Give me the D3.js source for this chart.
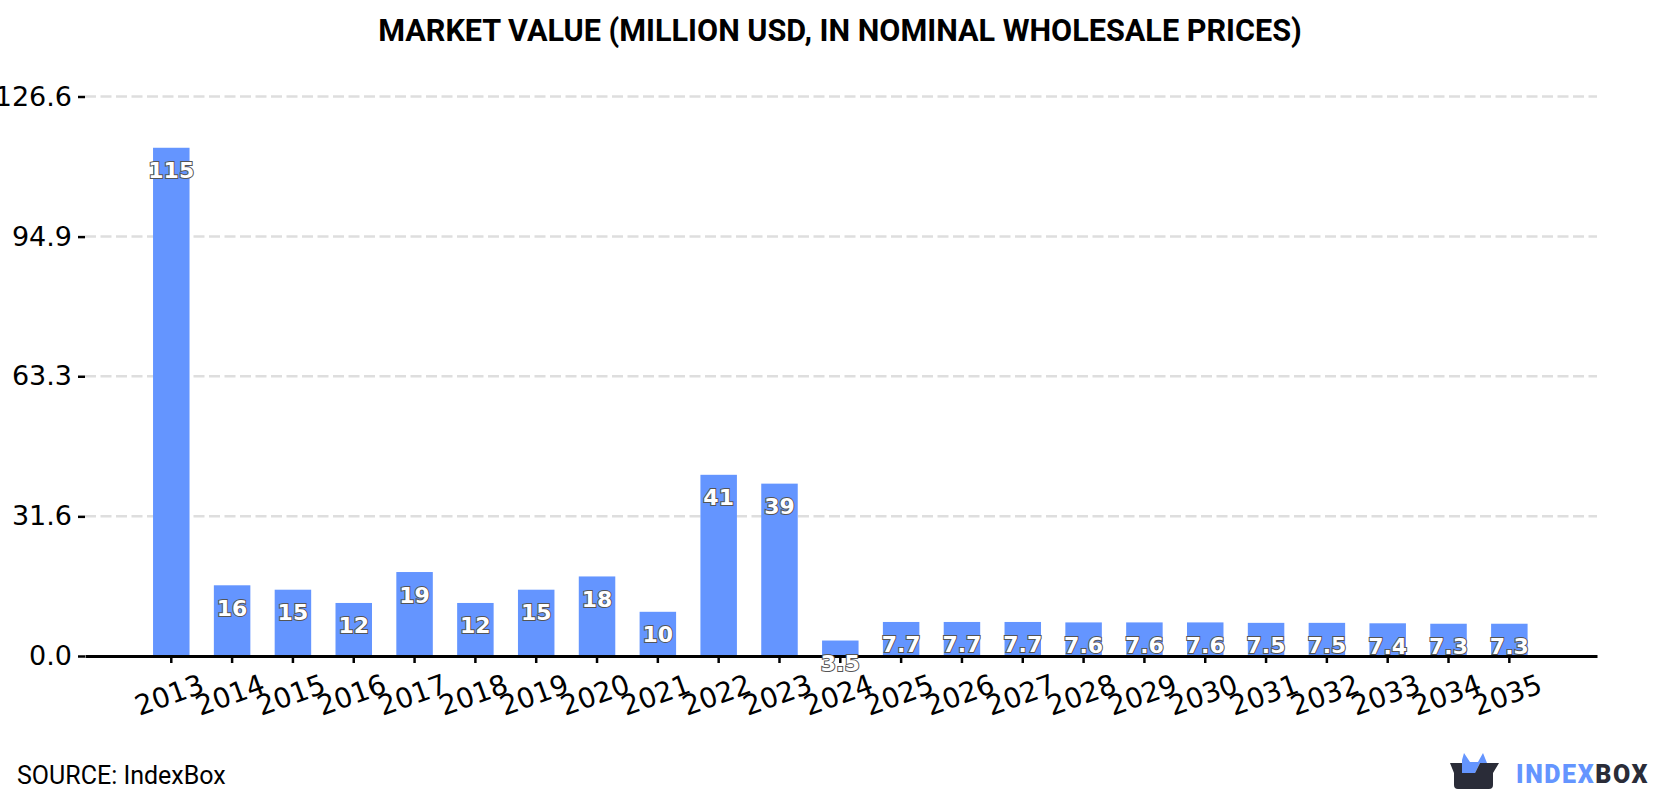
<!DOCTYPE html>
<html>
<head>
<meta charset="utf-8">
<script src="https://cdn.jsdelivr.net/npm/d3@7"></script>
<style>
  html, body { margin: 0; padding: 0; background: #fff; }
  svg { display: block; }
</style>
</head>
<body>
<svg id="chart" width="1680" height="800"></svg>
<script>
const years = ["2013","2014","2015","2016","2017","2018","2019","2020","2021","2022","2023","2024","2025","2026","2027","2028","2029","2030","2031","2032","2033","2034","2035"];
const marketValue = [115,16,15,12,19,12,15,18,10,41,39,3.5,7.7,7.7,7.7,7.6,7.6,7.6,7.5,7.5,7.4,7.3,7.3];
const yTicks = [0,31.6,63.3,94.9,126.6];

const svg = d3.select("#chart");
const plot = { left: 85, right: 1597, top: 96.5, bottom: 656 };

const x = d3.scaleBand().domain(years).range([plot.left, plot.right]).paddingInner(0.4).paddingOuter(1.13).align(0.495);
const y = d3.scaleLinear().domain([0, 126.6]).range([plot.bottom, plot.top]);

svg.append("text")
  .attr("x", 840).attr("y", 41)
  .attr("text-anchor", "middle")
  .attr("font-family", "Roboto").attr("font-weight", 700).attr("font-size", 30.6)
  .attr("fill", "#000")
  .text("MARKET VALUE (MILLION USD, IN NOMINAL WHOLESALE PRICES)");

// Dashed horizontal guides
svg.append("g").selectAll("line")
  .data(yTicks.filter(d => d > 0))
  .join("line")
  .attr("x1", plot.left).attr("x2", plot.right)
  .attr("y1", d => y(d)).attr("y2", d => y(d))
  .attr("stroke", "#dedede").attr("stroke-width", 2.5)
  .attr("stroke-dasharray", "11 4.5");

// Bars
svg.append("g").selectAll("rect")
  .data(years)
  .join("rect")
  .attr("x", d => x(d))
  .attr("width", x.bandwidth())
  .attr("y", (d, i) => y(marketValue[i]))
  .attr("height", (d, i) => plot.bottom - y(marketValue[i]))
  .attr("fill", "#6495ff");

// Y axis
const yAxis = svg.append("g")
  .attr("transform", `translate(${plot.left},0)`)
  .call(d3.axisLeft(y).tickValues(yTicks).tickFormat(d3.format(".1f")).tickSize(7).tickPadding(6));
yAxis.select(".domain").remove();
yAxis.selectAll("line").attr("stroke", "#000").attr("stroke-width", 2.5);
yAxis.selectAll("text")
  .attr("font-family", "DejaVu Sans").attr("font-size", 27).attr("fill", "#000");

// X axis
const xAxis = svg.append("g")
  .attr("transform", `translate(0,${plot.bottom})`)
  .call(d3.axisBottom(x).tickSize(7).tickSizeOuter(0).tickPadding(0));
xAxis.select(".domain").attr("stroke", "#000").attr("stroke-width", 3);
xAxis.selectAll("line").attr("stroke", "#000").attr("stroke-width", 2.5);
xAxis.selectAll("text")
  .attr("font-family", "DejaVu Sans").attr("font-size", 27.8).attr("fill", "#000")
  .attr("text-anchor", "middle")
  .attr("dy", null)
  .attr("y", 0)
  .attr("dominant-baseline", "central")
  .attr("transform", "translate(-2,39) rotate(-20)");

// Value labels sit just inside each bar's top
svg.append("g").selectAll("text")
  .data(years)
  .join("text")
  .attr("x", d => x(d) + x.bandwidth() / 2)
  .attr("y", (d, i) => y(marketValue[i]) + 23)
  .attr("dominant-baseline", "central")
  .attr("text-anchor", "middle")
  .attr("font-family", "DejaVu Sans").attr("font-weight", 700).attr("font-size", 22)
  .attr("fill", "#fff").attr("stroke", "#555").attr("stroke-width", 2)
  .attr("paint-order", "stroke")
  .text((d, i) => marketValue[i]);

svg.append("text")
  .attr("x", 17).attr("y", 784)
  .attr("font-family", "Roboto").attr("font-size", 25).attr("fill", "#000")
  .text("SOURCE: IndexBox");

// Brand mark
const logo = svg.append("g");
logo.append("path")
  .attr("d", "M1462 773 L1462 760 L1464 753 L1470 762 L1478 762 L1483 753 L1487 763 L1480 763 L1475 773 Z")
  .attr("fill", "#6495ff");
logo.append("path")
  .attr("d", "M1450 763 L1462 763 L1462 773 L1475 773 L1480 763 L1499 763 L1493 773 L1493 785 Q1493 789 1489 789 L1458 789 Q1454 789 1454 785 L1454 773 Z")
  .attr("fill", "#2a2c38");
logo.append("text")
  .attr("x", 1516).attr("y", 783)
  .attr("font-family", "Roboto").attr("font-weight", 900).attr("font-size", 25)
  .attr("letter-spacing", 1.6)
  .attr("fill", "#6495ff")
  .text("INDEX")
  .append("tspan").attr("fill", "#2a2c38").text("BOX");
</script>
</body>
</html>
